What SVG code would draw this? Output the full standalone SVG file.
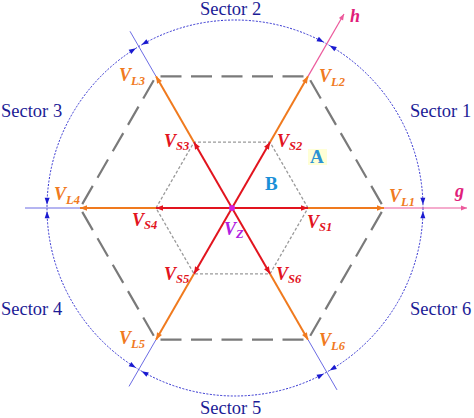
<svg xmlns="http://www.w3.org/2000/svg" width="474" height="418" viewBox="0 0 474 418">
<style>
.sector{font-family:"Liberation Serif","Times New Roman",serif;font-size:18.5px;fill:#1c1c96}
.v{font-family:"Liberation Serif","Times New Roman",serif;font-size:18px;font-style:italic;font-weight:bold}
.sub{font-size:12.5px}
.vs{fill:#e2141e}
.vl{fill:#f07a1e}
.ax{font-family:"Liberation Serif","Times New Roman",serif;font-size:18px;font-style:italic;font-weight:bold;fill:#e0207a}
.reg{font-family:"Liberation Serif","Times New Roman",serif;font-size:19px;font-weight:bold}
.red{stroke:#e2141e;stroke-width:2;fill:none}
.org{stroke:#f07a1e;stroke-width:2;fill:none}
.pink{stroke:#ec5a9c;stroke-width:1.2;fill:none}
.blue{stroke:#5a5ae0;stroke-width:0.9;fill:none}
.big{stroke:#7a7a7a;stroke-width:2.2;stroke-dasharray:21 9.5;fill:none}
.small{stroke:#9a9a9a;stroke-width:1.3;stroke-dasharray:3 2;fill:none}
.circ{stroke:#3030d0;stroke-width:1;stroke-dasharray:2 1.5;fill:none}
.ah{fill:#1a1ad0}
</style>
<defs>
<marker id="mr" viewBox="0 0 10 10" refX="10" refY="5" markerWidth="8" markerHeight="7" markerUnits="userSpaceOnUse" orient="auto"><path d="M0,1 L10,5 L0,9 z" fill="#e2141e"/></marker>
<marker id="mo" viewBox="0 0 10 10" refX="10" refY="5" markerWidth="8" markerHeight="7" markerUnits="userSpaceOnUse" orient="auto"><path d="M0,1 L10,5 L0,9 z" fill="#f07a1e"/></marker>
<marker id="mp" viewBox="0 0 10 10" refX="10" refY="5" markerWidth="8" markerHeight="6" markerUnits="userSpaceOnUse" orient="auto"><path d="M0,1 L10,5 L0,9 z" fill="#ec5a9c"/></marker>
<path id="tri" d="M0,0 L-7,-2.5 L-7,2.5 z"/>
</defs>

<g id="circle">
<circle class="circ" cx="235" cy="208" r="188"/>
<use href="#tri" class="ah" transform="translate(422.97,211.28) rotate(-89)"/>
<use href="#tri" class="ah" transform="translate(422.97,204.72) rotate(89)"/>
<use href="#tri" class="ah" transform="translate(329.57,45.52) rotate(-149.8)"/>
<use href="#tri" class="ah" transform="translate(323.84,42.32) rotate(28.2)"/>
<use href="#tri" class="ah" transform="translate(141.57,44.86) rotate(150.2)"/>
<use href="#tri" class="ah" transform="translate(135.93,48.22) rotate(-31.8)"/>
<use href="#tri" class="ah" transform="translate(47.03,204.72) rotate(91)"/>
<use href="#tri" class="ah" transform="translate(47.03,211.28) rotate(-91)"/>
<use href="#tri" class="ah" transform="translate(135.93,367.78) rotate(31.8)"/>
<use href="#tri" class="ah" transform="translate(141.57,371.14) rotate(-150.2)"/>
<use href="#tri" class="ah" transform="translate(323.84,373.68) rotate(-28.2)"/>
<use href="#tri" class="ah" transform="translate(329.57,370.48) rotate(149.8)"/>
</g>

<g id="hexagons">
<line class="big" x1="160.5" y1="76.36" x2="303.5" y2="76.36"/>
<line class="big" x1="310.25" y1="80.26" x2="381.75" y2="204.1"/>
<line class="big" x1="381.75" y1="211.9" x2="310.25" y2="335.74"/>
<line class="big" x1="303.5" y1="339.64" x2="160.5" y2="339.64"/>
<line class="big" x1="153.75" y1="335.74" x2="82.25" y2="211.9"/>
<line class="big" x1="82.25" y1="204.1" x2="153.75" y2="80.26"/>
<polygon class="small" points="308,208 270,142.18 194,142.18 156,208 194,273.82 270,273.82"/>
</g>

<g id="connectors">
<line class="blue" x1="25" y1="208" x2="80" y2="208"/>
<line class="blue" x1="156" y1="76.36" x2="130" y2="31.3"/>
<line class="blue" x1="156" y1="339.64" x2="129" y2="386.4"/>
<line class="blue" x1="308" y1="339.64" x2="337" y2="389.9"/>
<line class="pink" x1="384" y1="208" x2="467" y2="208" marker-end="url(#mp)"/>
<line class="pink" x1="308" y1="76.36" x2="344" y2="14" marker-end="url(#mp)"/>
<line class="org" x1="308" y1="208" x2="384" y2="208" marker-end="url(#mo)"/>
<line class="org" x1="270" y1="142.18" x2="308" y2="76.36" marker-end="url(#mo)"/>
<line class="org" x1="194" y1="142.18" x2="156" y2="76.36" marker-end="url(#mo)"/>
<line class="org" x1="156" y1="208" x2="80" y2="208" marker-end="url(#mo)"/>
<line class="org" x1="194" y1="273.82" x2="156" y2="339.64" marker-end="url(#mo)"/>
<line class="org" x1="270" y1="273.82" x2="308" y2="339.64" marker-end="url(#mo)"/>
<line class="red" x1="232" y1="208" x2="308" y2="208" marker-end="url(#mr)"/>
<line class="red" x1="232" y1="208" x2="270" y2="142.18" marker-end="url(#mr)"/>
<line class="red" x1="232" y1="208" x2="194" y2="142.18" marker-end="url(#mr)"/>
<line class="red" x1="232" y1="208" x2="156" y2="208" marker-end="url(#mr)"/>
<line class="red" x1="232" y1="208" x2="194" y2="273.82" marker-end="url(#mr)"/>
<line class="red" x1="232" y1="208" x2="270" y2="273.82" marker-end="url(#mr)"/>
</g>

<g id="origin"><circle cx="232" cy="208" r="3" fill="#d020e0"/></g>

<g id="labels">
<text class="sector" x="200" y="15">Sector 2</text>
<text class="sector" x="410" y="117">Sector 1</text>
<text class="sector" x="1" y="117">Sector 3</text>
<text class="sector" x="1" y="315">Sector 4</text>
<text class="sector" x="200" y="414">Sector 5</text>
<text class="sector" x="410" y="315">Sector 6</text>

<text class="ax" x="455" y="197">g</text>
<text class="ax" x="350" y="22">h</text>

<text class="v vl" x="389" y="202">V<tspan class="sub" dy="3.5">L1</tspan></text>
<text class="v vl" x="319" y="82">V<tspan class="sub" dy="3.5">L2</tspan></text>
<text class="v vl" x="119" y="81">V<tspan class="sub" dy="3.5">L3</tspan></text>
<text class="v vl" x="54" y="200">V<tspan class="sub" dy="3.5">L4</tspan></text>
<text class="v vl" x="119" y="344">V<tspan class="sub" dy="3.5">L5</tspan></text>
<text class="v vl" x="319" y="346">V<tspan class="sub" dy="3.5">L6</tspan></text>

<text class="v vs" x="307" y="228">V<tspan class="sub" dy="3">S1</tspan></text>
<text class="v vs" x="277" y="147">V<tspan class="sub" dy="3">S2</tspan></text>
<text class="v vs" x="164" y="147">V<tspan class="sub" dy="3">S3</tspan></text>
<text class="v vs" x="132" y="226">V<tspan class="sub" dy="3">S4</tspan></text>
<text class="v vs" x="164" y="280">V<tspan class="sub" dy="3">S5</tspan></text>
<text class="v vs" x="276" y="280">V<tspan class="sub" dy="3">S6</tspan></text>

<text class="v" x="224" y="235" fill="#b020e0">V<tspan class="sub" dy="2.5" font-size="14px">Z</tspan></text>
</g>

<g id="regionA">
<rect x="308" y="149" width="19" height="16" fill="#ffffd6"/>
<text class="reg" x="310" y="163" fill="#2a92d4">A</text>
</g>
<g id="regionB"><text class="reg" x="265" y="190" fill="#1a90d8">B</text></g>
</svg>
